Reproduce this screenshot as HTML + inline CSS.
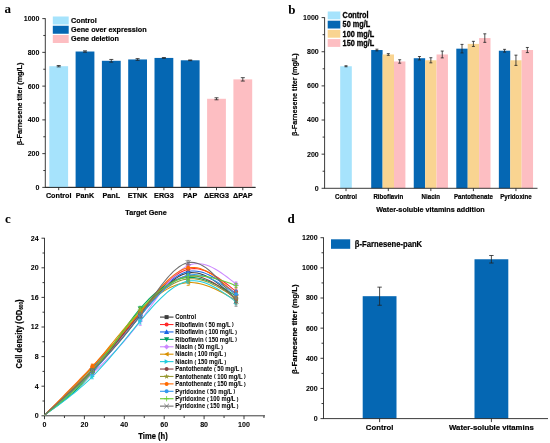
<!DOCTYPE html>
<html><head><meta charset="utf-8"><style>
html,body{margin:0;padding:0;background:#fff;width:550px;height:443px;overflow:hidden}
svg{display:block;will-change:transform}

</style></head><body>
<svg width="550" height="443" viewBox="0 0 550 443" font-family="'Liberation Sans', sans-serif"><text x="4.5" y="12.8" font-family="Liberation Serif, serif" font-size="13" font-weight="bold" fill="#000">a</text>
<line x1="45.30" y1="18.30" x2="45.30" y2="187.80" stroke="#262626" stroke-width="0.9"/>
<line x1="42.30" y1="187.40" x2="45.30" y2="187.40" stroke="#262626" stroke-width="0.9"/>
<text transform="translate(39.50,189.80) scale(0.88,1)" font-size="8.06" text-anchor="end" font-weight="bold" fill="#000" stroke="#000" stroke-width="0.05">0</text>
<line x1="43.30" y1="170.52" x2="45.30" y2="170.52" stroke="#262626" stroke-width="0.9"/>
<line x1="42.30" y1="153.64" x2="45.30" y2="153.64" stroke="#262626" stroke-width="0.9"/>
<text transform="translate(39.50,156.04) scale(0.88,1)" font-size="8.06" text-anchor="end" font-weight="bold" fill="#000" stroke="#000" stroke-width="0.05">200</text>
<line x1="43.30" y1="136.76" x2="45.30" y2="136.76" stroke="#262626" stroke-width="0.9"/>
<line x1="42.30" y1="119.88" x2="45.30" y2="119.88" stroke="#262626" stroke-width="0.9"/>
<text transform="translate(39.50,122.28) scale(0.88,1)" font-size="8.06" text-anchor="end" font-weight="bold" fill="#000" stroke="#000" stroke-width="0.05">400</text>
<line x1="43.30" y1="103.00" x2="45.30" y2="103.00" stroke="#262626" stroke-width="0.9"/>
<line x1="42.30" y1="86.12" x2="45.30" y2="86.12" stroke="#262626" stroke-width="0.9"/>
<text transform="translate(39.50,88.52) scale(0.88,1)" font-size="8.06" text-anchor="end" font-weight="bold" fill="#000" stroke="#000" stroke-width="0.05">600</text>
<line x1="43.30" y1="69.24" x2="45.30" y2="69.24" stroke="#262626" stroke-width="0.9"/>
<line x1="42.30" y1="52.36" x2="45.30" y2="52.36" stroke="#262626" stroke-width="0.9"/>
<text transform="translate(39.50,54.76) scale(0.88,1)" font-size="8.06" text-anchor="end" font-weight="bold" fill="#000" stroke="#000" stroke-width="0.05">800</text>
<line x1="43.30" y1="35.48" x2="45.30" y2="35.48" stroke="#262626" stroke-width="0.9"/>
<line x1="42.30" y1="18.60" x2="45.30" y2="18.60" stroke="#262626" stroke-width="0.9"/>
<text transform="translate(39.50,21.00) scale(0.88,1)" font-size="8.06" text-anchor="end" font-weight="bold" fill="#000" stroke="#000" stroke-width="0.05">1000</text>
<line x1="45.30" y1="187.40" x2="255.50" y2="187.40" stroke="#262626" stroke-width="0.9"/>
<rect x="49.30" y="66.20" width="18.80" height="121.20" fill="#A6E3FC"/>
<line x1="58.70" y1="65.53" x2="58.70" y2="66.88" stroke="#222" stroke-width="0.8"/>
<line x1="56.70" y1="65.53" x2="60.70" y2="65.53" stroke="#222" stroke-width="0.8"/>
<line x1="56.70" y1="66.88" x2="60.70" y2="66.88" stroke="#222" stroke-width="0.8"/>
<line x1="58.70" y1="187.40" x2="58.70" y2="190.20" stroke="#262626" stroke-width="0.9"/>
<text transform="translate(58.70,198.30) scale(0.92,1)" font-size="7.84" text-anchor="middle" font-weight="bold" fill="#000" stroke="#000" stroke-width="0.2" >Control</text>
<rect x="75.60" y="51.52" width="18.80" height="135.88" fill="#0567B3"/>
<line x1="85.00" y1="50.84" x2="85.00" y2="52.19" stroke="#222" stroke-width="0.8"/>
<line x1="83.00" y1="50.84" x2="87.00" y2="50.84" stroke="#222" stroke-width="0.8"/>
<line x1="83.00" y1="52.19" x2="87.00" y2="52.19" stroke="#222" stroke-width="0.8"/>
<line x1="85.00" y1="187.40" x2="85.00" y2="190.20" stroke="#262626" stroke-width="0.9"/>
<text transform="translate(85.00,198.30) scale(0.92,1)" font-size="7.84" text-anchor="middle" font-weight="bold" fill="#000" stroke="#000" stroke-width="0.2" >PanK</text>
<rect x="101.90" y="60.80" width="18.80" height="126.60" fill="#0567B3"/>
<line x1="111.30" y1="59.45" x2="111.30" y2="62.15" stroke="#222" stroke-width="0.8"/>
<line x1="109.30" y1="59.45" x2="113.30" y2="59.45" stroke="#222" stroke-width="0.8"/>
<line x1="109.30" y1="62.15" x2="113.30" y2="62.15" stroke="#222" stroke-width="0.8"/>
<line x1="111.30" y1="187.40" x2="111.30" y2="190.20" stroke="#262626" stroke-width="0.9"/>
<text transform="translate(111.30,198.30) scale(0.92,1)" font-size="7.84" text-anchor="middle" font-weight="bold" fill="#000" stroke="#000" stroke-width="0.2" >PanL</text>
<rect x="128.20" y="59.45" width="18.80" height="127.95" fill="#0567B3"/>
<line x1="137.60" y1="58.61" x2="137.60" y2="60.29" stroke="#222" stroke-width="0.8"/>
<line x1="135.60" y1="58.61" x2="139.60" y2="58.61" stroke="#222" stroke-width="0.8"/>
<line x1="135.60" y1="60.29" x2="139.60" y2="60.29" stroke="#222" stroke-width="0.8"/>
<line x1="137.60" y1="187.40" x2="137.60" y2="190.20" stroke="#262626" stroke-width="0.9"/>
<text transform="translate(137.60,198.30) scale(0.92,1)" font-size="7.84" text-anchor="middle" font-weight="bold" fill="#000" stroke="#000" stroke-width="0.2" >ETNK</text>
<rect x="154.50" y="57.93" width="18.80" height="129.47" fill="#0567B3"/>
<line x1="163.90" y1="57.59" x2="163.90" y2="58.27" stroke="#222" stroke-width="0.8"/>
<line x1="161.90" y1="57.59" x2="165.90" y2="57.59" stroke="#222" stroke-width="0.8"/>
<line x1="161.90" y1="58.27" x2="165.90" y2="58.27" stroke="#222" stroke-width="0.8"/>
<line x1="163.90" y1="187.40" x2="163.90" y2="190.20" stroke="#262626" stroke-width="0.9"/>
<text transform="translate(163.90,198.30) scale(0.92,1)" font-size="7.84" text-anchor="middle" font-weight="bold" fill="#000" stroke="#000" stroke-width="0.2" >ERG3</text>
<rect x="180.80" y="60.29" width="18.80" height="127.11" fill="#0567B3"/>
<line x1="190.20" y1="59.96" x2="190.20" y2="60.63" stroke="#222" stroke-width="0.8"/>
<line x1="188.20" y1="59.96" x2="192.20" y2="59.96" stroke="#222" stroke-width="0.8"/>
<line x1="188.20" y1="60.63" x2="192.20" y2="60.63" stroke="#222" stroke-width="0.8"/>
<line x1="190.20" y1="187.40" x2="190.20" y2="190.20" stroke="#262626" stroke-width="0.9"/>
<text transform="translate(190.20,198.30) scale(0.92,1)" font-size="7.84" text-anchor="middle" font-weight="bold" fill="#000" stroke="#000" stroke-width="0.2" >PAP</text>
<rect x="207.10" y="98.78" width="18.80" height="88.62" fill="#FDBEC2"/>
<line x1="216.50" y1="97.77" x2="216.50" y2="99.79" stroke="#222" stroke-width="0.8"/>
<line x1="214.50" y1="97.77" x2="218.50" y2="97.77" stroke="#222" stroke-width="0.8"/>
<line x1="214.50" y1="99.79" x2="218.50" y2="99.79" stroke="#222" stroke-width="0.8"/>
<line x1="216.50" y1="187.40" x2="216.50" y2="190.20" stroke="#262626" stroke-width="0.9"/>
<text transform="translate(216.50,198.30) scale(0.92,1)" font-size="7.84" text-anchor="middle" font-weight="bold" fill="#000" stroke="#000" stroke-width="0.2" >ΔERG3</text>
<rect x="233.40" y="79.37" width="18.80" height="108.03" fill="#FDBEC2"/>
<line x1="242.80" y1="77.68" x2="242.80" y2="81.06" stroke="#222" stroke-width="0.8"/>
<line x1="240.80" y1="77.68" x2="244.80" y2="77.68" stroke="#222" stroke-width="0.8"/>
<line x1="240.80" y1="81.06" x2="244.80" y2="81.06" stroke="#222" stroke-width="0.8"/>
<line x1="242.80" y1="187.40" x2="242.80" y2="190.20" stroke="#262626" stroke-width="0.9"/>
<text transform="translate(242.80,198.30) scale(0.92,1)" font-size="7.84" text-anchor="middle" font-weight="bold" fill="#000" stroke="#000" stroke-width="0.2" >ΔPAP</text>
<line x1="45.30" y1="187.40" x2="255.50" y2="187.40" stroke="#262626" stroke-width="0.9"/>
<text transform="translate(146.00,214.80) scale(0.92,1)" font-size="7.84" text-anchor="middle" font-weight="bold" fill="#000" stroke="#000" stroke-width="0.2" >Target Gene</text>
<text transform="translate(21.90,104.00) rotate(-90) scale(0.92,1)" font-size="7.86" text-anchor="middle" font-weight="bold" fill="#000" stroke="#000" stroke-width="0.2">β-Farnesene titer (mg/L)</text>
<rect x="52.80" y="16.50" width="15.90" height="8.00" fill="#A6E3FC"/>
<text transform="translate(71.00,22.90) scale(0.9,1)" font-size="8.06" text-anchor="start" font-weight="bold" fill="#000" stroke="#000" stroke-width="0.2" >Control</text>
<rect x="52.80" y="25.75" width="15.90" height="8.00" fill="#0567B3"/>
<text transform="translate(71.00,32.15) scale(0.9,1)" font-size="8.06" text-anchor="start" font-weight="bold" fill="#000" stroke="#000" stroke-width="0.2" >Gene over expression</text>
<rect x="52.80" y="35.00" width="15.90" height="8.00" fill="#FDBEC2"/>
<text transform="translate(71.00,41.40) scale(0.9,1)" font-size="8.06" text-anchor="start" font-weight="bold" fill="#000" stroke="#000" stroke-width="0.2" >Gene deletion</text>
<text x="288.3" y="13.6" font-family="Liberation Serif, serif" font-size="13" font-weight="bold" fill="#000">b</text>
<line x1="324.60" y1="17.30" x2="324.60" y2="188.70" stroke="#262626" stroke-width="0.9"/>
<line x1="321.60" y1="188.30" x2="324.60" y2="188.30" stroke="#262626" stroke-width="0.9"/>
<text transform="translate(318.80,190.70) scale(0.88,1)" font-size="8.06" text-anchor="end" font-weight="bold" fill="#000" stroke="#000" stroke-width="0.05">0</text>
<line x1="322.60" y1="171.23" x2="324.60" y2="171.23" stroke="#262626" stroke-width="0.9"/>
<line x1="321.60" y1="154.16" x2="324.60" y2="154.16" stroke="#262626" stroke-width="0.9"/>
<text transform="translate(318.80,156.56) scale(0.88,1)" font-size="8.06" text-anchor="end" font-weight="bold" fill="#000" stroke="#000" stroke-width="0.05">200</text>
<line x1="322.60" y1="137.09" x2="324.60" y2="137.09" stroke="#262626" stroke-width="0.9"/>
<line x1="321.60" y1="120.02" x2="324.60" y2="120.02" stroke="#262626" stroke-width="0.9"/>
<text transform="translate(318.80,122.42) scale(0.88,1)" font-size="8.06" text-anchor="end" font-weight="bold" fill="#000" stroke="#000" stroke-width="0.05">400</text>
<line x1="322.60" y1="102.95" x2="324.60" y2="102.95" stroke="#262626" stroke-width="0.9"/>
<line x1="321.60" y1="85.88" x2="324.60" y2="85.88" stroke="#262626" stroke-width="0.9"/>
<text transform="translate(318.80,88.28) scale(0.88,1)" font-size="8.06" text-anchor="end" font-weight="bold" fill="#000" stroke="#000" stroke-width="0.05">600</text>
<line x1="322.60" y1="68.81" x2="324.60" y2="68.81" stroke="#262626" stroke-width="0.9"/>
<line x1="321.60" y1="51.74" x2="324.60" y2="51.74" stroke="#262626" stroke-width="0.9"/>
<text transform="translate(318.80,54.14) scale(0.88,1)" font-size="8.06" text-anchor="end" font-weight="bold" fill="#000" stroke="#000" stroke-width="0.05">800</text>
<line x1="322.60" y1="34.67" x2="324.60" y2="34.67" stroke="#262626" stroke-width="0.9"/>
<line x1="321.60" y1="17.60" x2="324.60" y2="17.60" stroke="#262626" stroke-width="0.9"/>
<text transform="translate(318.80,20.00) scale(0.88,1)" font-size="8.06" text-anchor="end" font-weight="bold" fill="#000" stroke="#000" stroke-width="0.05">1000</text>
<rect x="340.20" y="66.25" width="11.60" height="122.05" fill="#A6E3FC"/>
<line x1="346.00" y1="65.74" x2="346.00" y2="66.76" stroke="#222" stroke-width="0.8"/>
<line x1="344.50" y1="65.74" x2="347.50" y2="65.74" stroke="#222" stroke-width="0.8"/>
<line x1="344.50" y1="66.76" x2="347.50" y2="66.76" stroke="#222" stroke-width="0.8"/>
<line x1="346.00" y1="188.30" x2="346.00" y2="191.10" stroke="#262626" stroke-width="0.9"/>
<text transform="translate(346.00,198.80) scale(0.92,1)" font-size="6.72" text-anchor="middle" font-weight="bold" fill="#000" stroke="#000" stroke-width="0.2" >Control</text>
<rect x="371.20" y="50.03" width="11.40" height="138.27" fill="#0567B3"/>
<line x1="376.90" y1="49.18" x2="376.90" y2="50.89" stroke="#222" stroke-width="0.8"/>
<line x1="375.40" y1="49.18" x2="378.40" y2="49.18" stroke="#222" stroke-width="0.8"/>
<line x1="375.40" y1="50.89" x2="378.40" y2="50.89" stroke="#222" stroke-width="0.8"/>
<rect x="382.60" y="54.47" width="11.40" height="133.83" fill="#F9D491"/>
<line x1="388.30" y1="53.62" x2="388.30" y2="55.32" stroke="#222" stroke-width="0.8"/>
<line x1="386.80" y1="53.62" x2="389.80" y2="53.62" stroke="#222" stroke-width="0.8"/>
<line x1="386.80" y1="55.32" x2="389.80" y2="55.32" stroke="#222" stroke-width="0.8"/>
<rect x="394.00" y="61.47" width="11.40" height="126.83" fill="#FDBEC2"/>
<line x1="399.70" y1="59.76" x2="399.70" y2="63.18" stroke="#222" stroke-width="0.8"/>
<line x1="398.20" y1="59.76" x2="401.20" y2="59.76" stroke="#222" stroke-width="0.8"/>
<line x1="398.20" y1="63.18" x2="401.20" y2="63.18" stroke="#222" stroke-width="0.8"/>
<line x1="388.30" y1="188.30" x2="388.30" y2="191.10" stroke="#262626" stroke-width="0.9"/>
<text transform="translate(388.30,198.80) scale(0.92,1)" font-size="6.72" text-anchor="middle" font-weight="bold" fill="#000" stroke="#000" stroke-width="0.2" >Riboflavin</text>
<rect x="413.75" y="58.23" width="11.40" height="130.07" fill="#0567B3"/>
<line x1="419.45" y1="56.52" x2="419.45" y2="59.93" stroke="#222" stroke-width="0.8"/>
<line x1="417.95" y1="56.52" x2="420.95" y2="56.52" stroke="#222" stroke-width="0.8"/>
<line x1="417.95" y1="59.93" x2="420.95" y2="59.93" stroke="#222" stroke-width="0.8"/>
<rect x="425.15" y="60.28" width="11.40" height="128.03" fill="#F9D491"/>
<line x1="430.85" y1="57.71" x2="430.85" y2="62.84" stroke="#222" stroke-width="0.8"/>
<line x1="429.35" y1="57.71" x2="432.35" y2="57.71" stroke="#222" stroke-width="0.8"/>
<line x1="429.35" y1="62.84" x2="432.35" y2="62.84" stroke="#222" stroke-width="0.8"/>
<rect x="436.55" y="54.47" width="11.40" height="133.83" fill="#FDBEC2"/>
<line x1="442.25" y1="51.06" x2="442.25" y2="57.89" stroke="#222" stroke-width="0.8"/>
<line x1="440.75" y1="51.06" x2="443.75" y2="51.06" stroke="#222" stroke-width="0.8"/>
<line x1="440.75" y1="57.89" x2="443.75" y2="57.89" stroke="#222" stroke-width="0.8"/>
<line x1="430.85" y1="188.30" x2="430.85" y2="191.10" stroke="#262626" stroke-width="0.9"/>
<text transform="translate(430.85,198.80) scale(0.92,1)" font-size="6.72" text-anchor="middle" font-weight="bold" fill="#000" stroke="#000" stroke-width="0.2" >Niacin</text>
<rect x="456.30" y="48.67" width="11.40" height="139.63" fill="#0567B3"/>
<line x1="462.00" y1="44.40" x2="462.00" y2="52.93" stroke="#222" stroke-width="0.8"/>
<line x1="460.50" y1="44.40" x2="463.50" y2="44.40" stroke="#222" stroke-width="0.8"/>
<line x1="460.50" y1="52.93" x2="463.50" y2="52.93" stroke="#222" stroke-width="0.8"/>
<rect x="467.70" y="43.89" width="11.40" height="144.41" fill="#F9D491"/>
<line x1="473.40" y1="41.33" x2="473.40" y2="46.45" stroke="#222" stroke-width="0.8"/>
<line x1="471.90" y1="41.33" x2="474.90" y2="41.33" stroke="#222" stroke-width="0.8"/>
<line x1="471.90" y1="46.45" x2="474.90" y2="46.45" stroke="#222" stroke-width="0.8"/>
<rect x="479.10" y="38.08" width="11.40" height="150.22" fill="#FDBEC2"/>
<line x1="484.80" y1="33.82" x2="484.80" y2="42.35" stroke="#222" stroke-width="0.8"/>
<line x1="483.30" y1="33.82" x2="486.30" y2="33.82" stroke="#222" stroke-width="0.8"/>
<line x1="483.30" y1="42.35" x2="486.30" y2="42.35" stroke="#222" stroke-width="0.8"/>
<line x1="473.40" y1="188.30" x2="473.40" y2="191.10" stroke="#262626" stroke-width="0.9"/>
<text transform="translate(473.40,198.80) scale(0.92,1)" font-size="6.72" text-anchor="middle" font-weight="bold" fill="#000" stroke="#000" stroke-width="0.2" >Pantothenate</text>
<rect x="498.85" y="50.72" width="11.40" height="137.58" fill="#0567B3"/>
<line x1="504.55" y1="49.35" x2="504.55" y2="52.08" stroke="#222" stroke-width="0.8"/>
<line x1="503.05" y1="49.35" x2="506.05" y2="49.35" stroke="#222" stroke-width="0.8"/>
<line x1="503.05" y1="52.08" x2="506.05" y2="52.08" stroke="#222" stroke-width="0.8"/>
<rect x="510.25" y="60.28" width="11.40" height="128.03" fill="#F9D491"/>
<line x1="515.95" y1="55.15" x2="515.95" y2="65.40" stroke="#222" stroke-width="0.8"/>
<line x1="514.45" y1="55.15" x2="517.45" y2="55.15" stroke="#222" stroke-width="0.8"/>
<line x1="514.45" y1="65.40" x2="517.45" y2="65.40" stroke="#222" stroke-width="0.8"/>
<rect x="521.65" y="50.03" width="11.40" height="138.27" fill="#FDBEC2"/>
<line x1="527.35" y1="47.47" x2="527.35" y2="52.59" stroke="#222" stroke-width="0.8"/>
<line x1="525.85" y1="47.47" x2="528.85" y2="47.47" stroke="#222" stroke-width="0.8"/>
<line x1="525.85" y1="52.59" x2="528.85" y2="52.59" stroke="#222" stroke-width="0.8"/>
<line x1="515.95" y1="188.30" x2="515.95" y2="191.10" stroke="#262626" stroke-width="0.9"/>
<text transform="translate(515.95,198.80) scale(0.92,1)" font-size="6.72" text-anchor="middle" font-weight="bold" fill="#000" stroke="#000" stroke-width="0.2" >Pyridoxine</text>
<line x1="324.60" y1="188.30" x2="537.50" y2="188.30" stroke="#262626" stroke-width="0.9"/>
<text transform="translate(430.50,211.50) scale(0.92,1)" font-size="7.84" text-anchor="middle" font-weight="bold" fill="#000" stroke="#000" stroke-width="0.2" >Water-soluble vitamins addition</text>
<text transform="translate(297.00,94.60) rotate(-90) scale(0.92,1)" font-size="7.86" text-anchor="middle" font-weight="bold" fill="#000" stroke="#000" stroke-width="0.2">β-Farnesene titer (mg/L)</text>
<rect x="327.70" y="11.50" width="12.60" height="7.80" fill="#A6E3FC"/>
<text transform="translate(342.60,18.10) scale(0.86,1)" font-size="8.51" text-anchor="start" font-weight="bold" fill="#000" stroke="#000" stroke-width="0.3">Control</text>
<rect x="327.70" y="20.70" width="12.60" height="7.80" fill="#0567B3"/>
<text transform="translate(342.60,27.30) scale(0.86,1)" font-size="8.51" text-anchor="start" font-weight="bold" fill="#000" stroke="#000" stroke-width="0.3">50 mg/L</text>
<rect x="327.70" y="29.90" width="12.60" height="7.80" fill="#F9D491"/>
<text transform="translate(342.60,36.50) scale(0.86,1)" font-size="8.51" text-anchor="start" font-weight="bold" fill="#000" stroke="#000" stroke-width="0.3">100 mg/L</text>
<rect x="327.70" y="39.10" width="12.60" height="7.80" fill="#FDBEC2"/>
<text transform="translate(342.60,45.70) scale(0.86,1)" font-size="8.51" text-anchor="start" font-weight="bold" fill="#000" stroke="#000" stroke-width="0.3">150 mg/L</text>
<text x="287.5" y="223.2" font-family="Liberation Serif, serif" font-size="13" font-weight="bold" fill="#000">d</text>
<line x1="323.50" y1="237.40" x2="323.50" y2="419.00" stroke="#262626" stroke-width="0.9"/>
<line x1="320.50" y1="418.60" x2="323.50" y2="418.60" stroke="#262626" stroke-width="0.9"/>
<text transform="translate(317.70,421.00) scale(0.88,1)" font-size="8.06" text-anchor="end" font-weight="bold" fill="#000" stroke="#000" stroke-width="0.05">0</text>
<line x1="321.50" y1="403.53" x2="323.50" y2="403.53" stroke="#262626" stroke-width="0.9"/>
<line x1="320.50" y1="388.45" x2="323.50" y2="388.45" stroke="#262626" stroke-width="0.9"/>
<text transform="translate(317.70,390.85) scale(0.88,1)" font-size="8.06" text-anchor="end" font-weight="bold" fill="#000" stroke="#000" stroke-width="0.05">200</text>
<line x1="321.50" y1="373.38" x2="323.50" y2="373.38" stroke="#262626" stroke-width="0.9"/>
<line x1="320.50" y1="358.30" x2="323.50" y2="358.30" stroke="#262626" stroke-width="0.9"/>
<text transform="translate(317.70,360.70) scale(0.88,1)" font-size="8.06" text-anchor="end" font-weight="bold" fill="#000" stroke="#000" stroke-width="0.05">400</text>
<line x1="321.50" y1="343.23" x2="323.50" y2="343.23" stroke="#262626" stroke-width="0.9"/>
<line x1="320.50" y1="328.15" x2="323.50" y2="328.15" stroke="#262626" stroke-width="0.9"/>
<text transform="translate(317.70,330.55) scale(0.88,1)" font-size="8.06" text-anchor="end" font-weight="bold" fill="#000" stroke="#000" stroke-width="0.05">600</text>
<line x1="321.50" y1="313.07" x2="323.50" y2="313.07" stroke="#262626" stroke-width="0.9"/>
<line x1="320.50" y1="298.00" x2="323.50" y2="298.00" stroke="#262626" stroke-width="0.9"/>
<text transform="translate(317.70,300.40) scale(0.88,1)" font-size="8.06" text-anchor="end" font-weight="bold" fill="#000" stroke="#000" stroke-width="0.05">800</text>
<line x1="321.50" y1="282.93" x2="323.50" y2="282.93" stroke="#262626" stroke-width="0.9"/>
<line x1="320.50" y1="267.85" x2="323.50" y2="267.85" stroke="#262626" stroke-width="0.9"/>
<text transform="translate(317.70,270.25) scale(0.88,1)" font-size="8.06" text-anchor="end" font-weight="bold" fill="#000" stroke="#000" stroke-width="0.05">1000</text>
<line x1="321.50" y1="252.78" x2="323.50" y2="252.78" stroke="#262626" stroke-width="0.9"/>
<line x1="320.50" y1="237.70" x2="323.50" y2="237.70" stroke="#262626" stroke-width="0.9"/>
<text transform="translate(317.70,240.10) scale(0.88,1)" font-size="8.06" text-anchor="end" font-weight="bold" fill="#000" stroke="#000" stroke-width="0.05">1200</text>
<rect x="362.70" y="296.19" width="33.80" height="122.41" fill="#0567B3"/>
<line x1="379.60" y1="287.15" x2="379.60" y2="305.24" stroke="#222" stroke-width="0.8"/>
<line x1="377.40" y1="287.15" x2="381.80" y2="287.15" stroke="#222" stroke-width="0.8"/>
<line x1="377.40" y1="305.24" x2="381.80" y2="305.24" stroke="#222" stroke-width="0.8"/>
<line x1="379.60" y1="418.60" x2="379.60" y2="422.10" stroke="#262626" stroke-width="0.9"/>
<text transform="translate(379.60,430.00) scale(0.99,1)" font-size="7.84" text-anchor="middle" font-weight="bold" fill="#000" stroke="#000" stroke-width="0.2" >Control</text>
<rect x="474.50" y="259.26" width="33.80" height="159.34" fill="#0567B3"/>
<line x1="491.40" y1="255.49" x2="491.40" y2="263.03" stroke="#222" stroke-width="0.8"/>
<line x1="489.20" y1="255.49" x2="493.60" y2="255.49" stroke="#222" stroke-width="0.8"/>
<line x1="489.20" y1="263.03" x2="493.60" y2="263.03" stroke="#222" stroke-width="0.8"/>
<line x1="491.40" y1="418.60" x2="491.40" y2="422.10" stroke="#262626" stroke-width="0.9"/>
<text transform="translate(491.40,430.00) scale(0.99,1)" font-size="7.84" text-anchor="middle" font-weight="bold" fill="#000" stroke="#000" stroke-width="0.2" >Water-soluble vitamins</text>
<line x1="323.50" y1="418.60" x2="548.00" y2="418.60" stroke="#262626" stroke-width="0.9"/>
<text transform="translate(297.20,329.20) rotate(-90) scale(1.0,1)" font-size="7.84" text-anchor="middle" font-weight="bold" fill="#000" stroke="#000" stroke-width="0.2">β-Farnesene titer (mg/L)</text>
<rect x="331.00" y="239.30" width="19.20" height="9.50" fill="#0567B3"/>
<text transform="translate(354.80,246.50) scale(0.94,1)" font-size="8.18" text-anchor="start" font-weight="bold" fill="#000" stroke="#000" stroke-width="0.2" >β-Farnesene-panK</text>
<text x="5" y="223.2" font-family="Liberation Serif, serif" font-size="13" font-weight="bold" fill="#000">c</text>
<line x1="44.50" y1="237.90" x2="44.50" y2="416.20" stroke="#262626" stroke-width="0.9"/>
<line x1="41.50" y1="415.80" x2="44.50" y2="415.80" stroke="#262626" stroke-width="0.9"/>
<text transform="translate(38.70,418.20) scale(0.88,1)" font-size="8.06" text-anchor="end" font-weight="bold" fill="#000" stroke="#000" stroke-width="0.05">0</text>
<line x1="42.50" y1="401.00" x2="44.50" y2="401.00" stroke="#262626" stroke-width="0.9"/>
<line x1="41.50" y1="386.20" x2="44.50" y2="386.20" stroke="#262626" stroke-width="0.9"/>
<text transform="translate(38.70,388.60) scale(0.88,1)" font-size="8.06" text-anchor="end" font-weight="bold" fill="#000" stroke="#000" stroke-width="0.05">4</text>
<line x1="42.50" y1="371.40" x2="44.50" y2="371.40" stroke="#262626" stroke-width="0.9"/>
<line x1="41.50" y1="356.60" x2="44.50" y2="356.60" stroke="#262626" stroke-width="0.9"/>
<text transform="translate(38.70,359.00) scale(0.88,1)" font-size="8.06" text-anchor="end" font-weight="bold" fill="#000" stroke="#000" stroke-width="0.05">8</text>
<line x1="42.50" y1="341.80" x2="44.50" y2="341.80" stroke="#262626" stroke-width="0.9"/>
<line x1="41.50" y1="327.00" x2="44.50" y2="327.00" stroke="#262626" stroke-width="0.9"/>
<text transform="translate(38.70,329.40) scale(0.88,1)" font-size="8.06" text-anchor="end" font-weight="bold" fill="#000" stroke="#000" stroke-width="0.05">12</text>
<line x1="42.50" y1="312.20" x2="44.50" y2="312.20" stroke="#262626" stroke-width="0.9"/>
<line x1="41.50" y1="297.40" x2="44.50" y2="297.40" stroke="#262626" stroke-width="0.9"/>
<text transform="translate(38.70,299.80) scale(0.88,1)" font-size="8.06" text-anchor="end" font-weight="bold" fill="#000" stroke="#000" stroke-width="0.05">16</text>
<line x1="42.50" y1="282.60" x2="44.50" y2="282.60" stroke="#262626" stroke-width="0.9"/>
<line x1="41.50" y1="267.80" x2="44.50" y2="267.80" stroke="#262626" stroke-width="0.9"/>
<text transform="translate(38.70,270.20) scale(0.88,1)" font-size="8.06" text-anchor="end" font-weight="bold" fill="#000" stroke="#000" stroke-width="0.05">20</text>
<line x1="42.50" y1="253.00" x2="44.50" y2="253.00" stroke="#262626" stroke-width="0.9"/>
<line x1="41.50" y1="238.20" x2="44.50" y2="238.20" stroke="#262626" stroke-width="0.9"/>
<text transform="translate(38.70,240.60) scale(0.88,1)" font-size="8.06" text-anchor="end" font-weight="bold" fill="#000" stroke="#000" stroke-width="0.05">24</text>
<line x1="44.50" y1="415.80" x2="265.00" y2="415.80" stroke="#262626" stroke-width="0.9"/>
<line x1="44.50" y1="415.80" x2="44.50" y2="419.20" stroke="#262626" stroke-width="0.9"/>
<text transform="translate(44.50,427.30) scale(0.88,1)" font-size="8.06" text-anchor="middle" font-weight="bold" fill="#000" stroke="#000" stroke-width="0.05">0</text>
<line x1="64.45" y1="415.80" x2="64.45" y2="418.00" stroke="#262626" stroke-width="0.9"/>
<line x1="84.40" y1="415.80" x2="84.40" y2="419.20" stroke="#262626" stroke-width="0.9"/>
<text transform="translate(84.40,427.30) scale(0.88,1)" font-size="8.06" text-anchor="middle" font-weight="bold" fill="#000" stroke="#000" stroke-width="0.05">20</text>
<line x1="104.35" y1="415.80" x2="104.35" y2="418.00" stroke="#262626" stroke-width="0.9"/>
<line x1="124.30" y1="415.80" x2="124.30" y2="419.20" stroke="#262626" stroke-width="0.9"/>
<text transform="translate(124.30,427.30) scale(0.88,1)" font-size="8.06" text-anchor="middle" font-weight="bold" fill="#000" stroke="#000" stroke-width="0.05">40</text>
<line x1="144.25" y1="415.80" x2="144.25" y2="418.00" stroke="#262626" stroke-width="0.9"/>
<line x1="164.20" y1="415.80" x2="164.20" y2="419.20" stroke="#262626" stroke-width="0.9"/>
<text transform="translate(164.20,427.30) scale(0.88,1)" font-size="8.06" text-anchor="middle" font-weight="bold" fill="#000" stroke="#000" stroke-width="0.05">60</text>
<line x1="184.15" y1="415.80" x2="184.15" y2="418.00" stroke="#262626" stroke-width="0.9"/>
<line x1="204.10" y1="415.80" x2="204.10" y2="419.20" stroke="#262626" stroke-width="0.9"/>
<text transform="translate(204.10,427.30) scale(0.88,1)" font-size="8.06" text-anchor="middle" font-weight="bold" fill="#000" stroke="#000" stroke-width="0.05">80</text>
<line x1="224.05" y1="415.80" x2="224.05" y2="418.00" stroke="#262626" stroke-width="0.9"/>
<line x1="244.00" y1="415.80" x2="244.00" y2="419.20" stroke="#262626" stroke-width="0.9"/>
<text transform="translate(244.00,427.30) scale(0.88,1)" font-size="8.06" text-anchor="middle" font-weight="bold" fill="#000" stroke="#000" stroke-width="0.05">100</text>
<line x1="263.95" y1="415.80" x2="263.95" y2="418.00" stroke="#262626" stroke-width="0.9"/>
<text transform="translate(153.00,438.90) scale(0.92,1)" font-size="8.29" text-anchor="middle" font-weight="bold" fill="#000" stroke="#000" stroke-width="0.2" >Time (h)</text>
<text transform="translate(21.80,334.00) rotate(-90) scale(0.92,1)" font-size="8.29" text-anchor="middle" font-weight="bold" fill="#000" stroke="#000" stroke-width="0.2">Cell density (OD<tspan font-size="5" dy="1.5">600</tspan><tspan dy="-1.5">)</tspan></text>
<path d="M44.50,415.06 L47.49,412.51 L50.48,409.95 L53.48,407.39 L56.47,404.81 L59.46,402.22 L62.45,399.60 L65.45,396.96 L68.44,394.30 L71.43,391.59 L74.42,388.85 L77.42,386.07 L80.41,383.25 L83.40,380.37 L86.40,377.44 L89.39,374.45 L92.38,371.40 L95.37,368.28 L98.37,365.10 L101.36,361.86 L104.35,358.57 L107.34,355.22 L110.34,351.82 L113.33,348.38 L116.32,344.89 L119.31,341.37 L122.31,337.81 L125.30,334.22 L128.29,330.60 L131.28,326.95 L134.28,323.28 L137.27,319.60 L140.26,315.90 L143.25,312.19 L146.25,308.50 L149.24,304.85 L152.23,301.27 L155.22,297.77 L158.22,294.40 L161.21,291.18 L164.20,288.12 L167.19,285.26 L170.19,282.63 L173.18,280.25 L176.17,278.14 L179.16,276.33 L182.16,274.85 L185.15,273.73 L188.14,272.98 L191.13,272.63 L194.12,272.66 L197.12,273.05 L200.11,273.77 L203.10,274.79 L206.09,276.09 L209.09,277.65 L212.08,279.43 L215.07,281.42 L218.06,283.58 L221.06,285.90 L224.05,288.34 L227.04,290.89 L230.03,293.51 L233.03,296.18 L236.02,298.88" fill="none" stroke="#3C3C3C" stroke-width="1.05"/>
<path d="M44.50,415.06 L47.49,412.40 L50.48,409.74 L53.48,407.07 L56.47,404.39 L59.46,401.70 L62.45,398.98 L65.45,396.24 L68.44,393.48 L71.43,390.68 L74.42,387.85 L77.42,384.98 L80.41,382.07 L83.40,379.11 L86.40,376.10 L89.39,373.04 L92.38,369.92 L95.37,366.74 L98.37,363.50 L101.36,360.21 L104.35,356.86 L107.34,353.46 L110.34,350.02 L113.33,346.53 L116.32,343.00 L119.31,339.44 L122.31,335.84 L125.30,332.21 L128.29,328.55 L131.28,324.86 L134.28,321.15 L137.27,317.42 L140.26,313.68 L143.25,309.93 L146.25,306.18 L149.24,302.48 L152.23,298.83 L155.22,295.28 L158.22,291.84 L161.21,288.54 L164.20,285.40 L167.19,282.45 L170.19,279.72 L173.18,277.23 L176.17,275.01 L179.16,273.07 L182.16,271.46 L185.15,270.18 L188.14,269.28 L191.13,268.76 L194.12,268.61 L197.12,268.80 L200.11,269.32 L203.10,270.13 L206.09,271.21 L209.09,272.53 L212.08,274.08 L215.07,275.83 L218.06,277.74 L221.06,279.81 L224.05,281.99 L227.04,284.28 L230.03,286.64 L233.03,289.05 L236.02,291.48" fill="none" stroke="#FF2A2A" stroke-width="1.05"/>
<path d="M44.50,415.06 L47.49,412.19 L50.48,409.32 L53.48,406.45 L56.47,403.57 L59.46,400.68 L62.45,397.78 L65.45,394.86 L68.44,391.94 L71.43,388.99 L74.42,386.02 L77.42,383.04 L80.41,380.03 L83.40,376.99 L86.40,373.92 L89.39,370.83 L92.38,367.70 L95.37,364.54 L98.37,361.34 L101.36,358.11 L104.35,354.85 L107.34,351.56 L110.34,348.24 L113.33,344.90 L116.32,341.52 L119.31,338.12 L122.31,334.70 L125.30,331.25 L128.29,327.77 L131.28,324.28 L134.28,320.77 L137.27,317.23 L140.26,313.68 L143.25,310.11 L146.25,306.56 L149.24,303.03 L152.23,299.56 L155.22,296.18 L158.22,292.90 L161.21,289.75 L164.20,286.76 L167.19,283.96 L170.19,281.36 L173.18,278.99 L176.17,276.88 L179.16,275.05 L182.16,273.52 L185.15,272.33 L188.14,271.50 L191.13,271.04 L194.12,270.94 L197.12,271.17 L200.11,271.71 L203.10,272.54 L206.09,273.62 L209.09,274.95 L212.08,276.50 L215.07,278.23 L218.06,280.13 L221.06,282.17 L224.05,284.33 L227.04,286.59 L230.03,288.92 L233.03,291.30 L236.02,293.70" fill="none" stroke="#1A66E6" stroke-width="1.05"/>
<path d="M44.50,415.06 L47.49,412.89 L50.48,410.70 L53.48,408.50 L56.47,406.26 L59.46,403.98 L62.45,401.64 L65.45,399.24 L68.44,396.76 L71.43,394.19 L74.42,391.53 L77.42,388.76 L80.41,385.87 L83.40,382.84 L86.40,379.68 L89.39,376.36 L92.38,372.88 L95.37,369.23 L98.37,365.43 L101.36,361.50 L104.35,357.45 L107.34,353.33 L110.34,349.14 L113.33,344.90 L116.32,340.65 L119.31,336.39 L122.31,332.16 L125.30,327.98 L128.29,323.86 L131.28,319.83 L134.28,315.91 L137.27,312.13 L140.26,308.50 L143.25,305.05 L146.25,301.77 L149.24,298.68 L152.23,295.79 L155.22,293.08 L158.22,290.58 L161.21,288.28 L164.20,286.19 L167.19,284.30 L170.19,282.64 L173.18,281.19 L176.17,279.97 L179.16,278.98 L182.16,278.22 L185.15,277.70 L188.14,277.42 L191.13,277.38 L194.12,277.58 L197.12,277.99 L200.11,278.60 L203.10,279.39 L206.09,280.36 L209.09,281.47 L212.08,282.73 L215.07,284.11 L218.06,285.60 L221.06,287.18 L224.05,288.83 L227.04,290.55 L230.03,292.31 L233.03,294.11 L236.02,295.92" fill="none" stroke="#00A064" stroke-width="1.05"/>
<path d="M44.50,415.06 L47.49,412.56 L50.48,410.06 L53.48,407.55 L56.47,405.04 L59.46,402.52 L62.45,399.98 L65.45,397.44 L68.44,394.88 L71.43,392.30 L74.42,389.71 L77.42,387.09 L80.41,384.45 L83.40,381.79 L86.40,379.10 L89.39,376.37 L92.38,373.62 L95.37,370.83 L98.37,368.00 L101.36,365.13 L104.35,362.21 L107.34,359.23 L110.34,356.19 L113.33,353.08 L116.32,349.89 L119.31,346.63 L122.31,343.28 L125.30,339.84 L128.29,336.30 L131.28,332.67 L134.28,328.92 L137.27,325.06 L140.26,321.08 L143.25,316.98 L146.25,312.80 L149.24,308.56 L152.23,304.31 L155.22,300.08 L158.22,295.91 L161.21,291.83 L164.20,287.89 L167.19,284.12 L170.19,280.56 L173.18,277.24 L176.17,274.20 L179.16,271.48 L182.16,269.11 L185.15,267.13 L188.14,265.58 L191.13,264.48 L194.12,263.82 L197.12,263.57 L200.11,263.70 L203.10,264.17 L206.09,264.96 L209.09,266.05 L212.08,267.39 L215.07,268.97 L218.06,270.75 L221.06,272.71 L224.05,274.81 L227.04,277.02 L230.03,279.33 L233.03,281.69 L236.02,284.08" fill="none" stroke="#CC88FF" stroke-width="1.05"/>
<path d="M44.50,415.06 L47.49,412.26 L50.48,409.46 L53.48,406.65 L56.47,403.82 L59.46,400.98 L62.45,398.11 L65.45,395.21 L68.44,392.27 L71.43,389.30 L74.42,386.28 L77.42,383.21 L80.41,380.09 L83.40,376.91 L86.40,373.66 L89.39,370.35 L92.38,366.96 L95.37,363.50 L98.37,359.96 L101.36,356.38 L104.35,352.75 L107.34,349.10 L110.34,345.43 L113.33,341.76 L116.32,338.10 L119.31,334.46 L122.31,330.86 L125.30,327.31 L128.29,323.82 L131.28,320.40 L134.28,317.07 L137.27,313.84 L140.26,310.72 L143.25,307.73 L146.25,304.86 L149.24,302.14 L152.23,299.56 L155.22,297.14 L158.22,294.88 L161.21,292.78 L164.20,290.86 L167.19,289.12 L170.19,287.56 L173.18,286.21 L176.17,285.05 L179.16,284.11 L182.16,283.38 L185.15,282.87 L188.14,282.60 L191.13,282.56 L194.12,282.74 L197.12,283.13 L200.11,283.71 L203.10,284.48 L206.09,285.40 L209.09,286.47 L212.08,287.68 L215.07,289.00 L218.06,290.43 L221.06,291.95 L224.05,293.54 L227.04,295.20 L230.03,296.89 L233.03,298.62 L236.02,300.36" fill="none" stroke="#D89000" stroke-width="1.05"/>
<path d="M44.50,415.06 L47.49,412.94 L50.48,410.81 L53.48,408.67 L56.47,406.51 L59.46,404.33 L62.45,402.11 L65.45,399.85 L68.44,397.54 L71.43,395.18 L74.42,392.76 L77.42,390.27 L80.41,387.70 L83.40,385.06 L86.40,382.33 L89.39,379.51 L92.38,376.58 L95.37,373.55 L98.37,370.42 L101.36,367.20 L104.35,363.90 L107.34,360.53 L110.34,357.09 L113.33,353.59 L116.32,350.05 L119.31,346.48 L122.31,342.87 L125.30,339.24 L128.29,335.60 L131.28,331.95 L134.28,328.31 L137.27,324.68 L140.26,321.08 L143.25,317.51 L146.25,313.99 L149.24,310.54 L152.23,307.18 L155.22,303.93 L158.22,300.81 L161.21,297.84 L164.20,295.04 L167.19,292.43 L170.19,290.03 L173.18,287.85 L176.17,285.93 L179.16,284.28 L182.16,282.91 L185.15,281.85 L188.14,281.12 L191.13,280.73 L194.12,280.67 L197.12,280.91 L200.11,281.43 L203.10,282.21 L206.09,283.24 L209.09,284.48 L212.08,285.92 L215.07,287.53 L218.06,289.29 L221.06,291.18 L224.05,293.18 L227.04,295.27 L230.03,297.42 L233.03,299.62 L236.02,301.84" fill="none" stroke="#22CCDD" stroke-width="1.05"/>
<path d="M44.50,415.06 L47.49,412.61 L50.48,410.15 L53.48,407.67 L56.47,405.18 L59.46,402.66 L62.45,400.11 L65.45,397.52 L68.44,394.89 L71.43,392.20 L74.42,389.46 L77.42,386.65 L80.41,383.77 L83.40,380.81 L86.40,377.77 L89.39,374.63 L92.38,371.40 L95.37,368.07 L98.37,364.64 L101.36,361.14 L104.35,357.56 L107.34,353.92 L110.34,350.23 L113.33,346.50 L116.32,342.74 L119.31,338.96 L122.31,335.18 L125.30,331.40 L128.29,327.64 L131.28,323.90 L134.28,320.20 L137.27,316.54 L140.26,312.94 L143.25,309.41 L146.25,305.96 L149.24,302.62 L152.23,299.39 L155.22,296.30 L158.22,293.36 L161.21,290.59 L164.20,288.00 L167.19,285.62 L170.19,283.45 L173.18,281.51 L176.17,279.83 L179.16,278.41 L182.16,277.28 L185.15,276.45 L188.14,275.94 L191.13,275.76 L194.12,275.88 L197.12,276.30 L200.11,277.00 L203.10,277.94 L206.09,279.11 L209.09,280.49 L212.08,282.06 L215.07,283.80 L218.06,285.68 L221.06,287.69 L224.05,289.80 L227.04,292.00 L230.03,294.26 L233.03,296.56 L236.02,298.88" fill="none" stroke="#884444" stroke-width="1.05"/>
<path d="M44.50,415.06 L47.49,412.42 L50.48,409.78 L53.48,407.13 L56.47,404.46 L59.46,401.77 L62.45,399.06 L65.45,396.31 L68.44,393.52 L71.43,390.69 L74.42,387.80 L77.42,384.87 L80.41,381.87 L83.40,378.81 L86.40,375.68 L89.39,372.47 L92.38,369.18 L95.37,365.80 L98.37,362.35 L101.36,358.84 L104.35,355.27 L107.34,351.65 L110.34,348.01 L113.33,344.34 L116.32,340.66 L119.31,336.98 L122.31,333.32 L125.30,329.68 L128.29,326.07 L131.28,322.51 L134.28,319.00 L137.27,315.56 L140.26,312.20 L143.25,308.93 L146.25,305.76 L149.24,302.70 L152.23,299.77 L155.22,296.98 L158.22,294.34 L161.21,291.86 L164.20,289.55 L167.19,287.44 L170.19,285.52 L173.18,283.82 L176.17,282.34 L179.16,281.09 L182.16,280.10 L185.15,279.36 L188.14,278.90 L191.13,278.72 L194.12,278.81 L197.12,279.14 L200.11,279.71 L203.10,280.50 L206.09,281.47 L209.09,282.63 L212.08,283.95 L215.07,285.41 L218.06,287.00 L221.06,288.69 L224.05,290.47 L227.04,292.33 L230.03,294.24 L233.03,296.18 L236.02,298.14" fill="none" stroke="#999933" stroke-width="1.05"/>
<path d="M44.50,415.06 L47.49,412.06 L50.48,409.05 L53.48,406.05 L56.47,403.04 L59.46,400.02 L62.45,397.00 L65.45,393.97 L68.44,390.94 L71.43,387.89 L74.42,384.84 L77.42,381.77 L80.41,378.69 L83.40,375.60 L86.40,372.49 L89.39,369.36 L92.38,366.22 L95.37,363.06 L98.37,359.88 L101.36,356.67 L104.35,353.45 L107.34,350.19 L110.34,346.91 L113.33,343.60 L116.32,340.26 L119.31,336.89 L122.31,333.48 L125.30,330.03 L128.29,326.55 L131.28,323.03 L134.28,319.46 L137.27,315.85 L140.26,312.20 L143.25,308.50 L146.25,304.79 L149.24,301.09 L152.23,297.44 L155.22,293.85 L158.22,290.37 L161.21,287.02 L164.20,283.84 L167.19,280.84 L170.19,278.07 L173.18,275.55 L176.17,273.32 L179.16,271.39 L182.16,269.81 L185.15,268.61 L188.14,267.80 L191.13,267.42 L194.12,267.44 L197.12,267.84 L200.11,268.59 L203.10,269.67 L206.09,271.04 L209.09,272.69 L212.08,274.57 L215.07,276.68 L218.06,278.97 L221.06,281.42 L224.05,284.01 L227.04,286.71 L230.03,289.49 L233.03,292.32 L236.02,295.18" fill="none" stroke="#FF6A00" stroke-width="1.05"/>
<path d="M44.50,415.06 L47.49,412.60 L50.48,410.14 L53.48,407.67 L56.47,405.18 L59.46,402.66 L62.45,400.13 L65.45,397.56 L68.44,394.95 L71.43,392.30 L74.42,389.61 L77.42,386.86 L80.41,384.05 L83.40,381.18 L86.40,378.24 L89.39,375.23 L92.38,372.14 L95.37,368.97 L98.37,365.71 L101.36,362.39 L104.35,359.00 L107.34,355.56 L110.34,352.07 L113.33,348.53 L116.32,344.96 L119.31,341.35 L122.31,337.73 L125.30,334.09 L128.29,330.44 L131.28,326.79 L134.28,323.15 L137.27,319.51 L140.26,315.90 L143.25,312.31 L146.25,308.78 L149.24,305.30 L152.23,301.91 L155.22,298.63 L158.22,295.48 L161.21,292.46 L164.20,289.62 L167.19,286.96 L170.19,284.50 L173.18,282.27 L176.17,280.29 L179.16,278.57 L182.16,277.13 L185.15,276.00 L188.14,275.20 L191.13,274.73 L194.12,274.59 L197.12,274.75 L200.11,275.18 L203.10,275.88 L206.09,276.81 L209.09,277.96 L212.08,279.30 L215.07,280.82 L218.06,282.49 L221.06,284.28 L224.05,286.18 L227.04,288.17 L230.03,290.23 L233.03,292.32 L236.02,294.44" fill="none" stroke="#3399EE" stroke-width="1.05"/>
<path d="M44.50,415.06 L47.49,412.71 L50.48,410.34 L53.48,407.96 L56.47,405.55 L59.46,403.11 L62.45,400.63 L65.45,398.09 L68.44,395.48 L71.43,392.81 L74.42,390.06 L77.42,387.22 L80.41,384.29 L83.40,381.25 L86.40,378.09 L89.39,374.81 L92.38,371.40 L95.37,367.85 L98.37,364.18 L101.36,360.41 L104.35,356.54 L107.34,352.61 L110.34,348.63 L113.33,344.62 L116.32,340.59 L119.31,336.56 L122.31,332.55 L125.30,328.59 L128.29,324.68 L131.28,320.85 L134.28,317.11 L137.27,313.48 L140.26,309.98 L143.25,306.63 L146.25,303.42 L149.24,300.38 L152.23,297.49 L155.22,294.76 L158.22,292.21 L161.21,289.82 L164.20,287.61 L167.19,285.57 L170.19,283.72 L173.18,282.06 L176.17,280.59 L179.16,279.31 L182.16,278.23 L185.15,277.35 L188.14,276.68 L191.13,276.22 L194.12,275.95 L197.12,275.87 L200.11,275.96 L203.10,276.20 L206.09,276.59 L209.09,277.11 L212.08,277.76 L215.07,278.50 L218.06,279.34 L221.06,280.25 L224.05,281.24 L227.04,282.27 L230.03,283.35 L233.03,284.45 L236.02,285.56" fill="none" stroke="#66CC33" stroke-width="1.05"/>
<path d="M44.50,415.06 L47.49,412.38 L50.48,409.70 L53.48,407.02 L56.47,404.33 L59.46,401.62 L62.45,398.91 L65.45,396.19 L68.44,393.44 L71.43,390.68 L74.42,387.90 L77.42,385.10 L80.41,382.27 L83.40,379.42 L86.40,376.53 L89.39,373.61 L92.38,370.66 L95.37,367.67 L98.37,364.64 L101.36,361.56 L104.35,358.44 L107.34,355.25 L110.34,352.01 L113.33,348.70 L116.32,345.32 L119.31,341.86 L122.31,338.33 L125.30,334.71 L128.29,331.00 L131.28,327.19 L134.28,323.29 L137.27,319.28 L140.26,315.16 L143.25,310.94 L146.25,306.64 L149.24,302.31 L152.23,298.00 L155.22,293.74 L158.22,289.58 L161.21,285.56 L164.20,281.72 L167.19,278.11 L170.19,274.76 L173.18,271.72 L176.17,269.03 L179.16,266.73 L182.16,264.87 L185.15,263.49 L188.14,262.62 L191.13,262.30 L194.12,262.51 L197.12,263.22 L200.11,264.37 L203.10,265.95 L206.09,267.92 L209.09,270.24 L212.08,272.87 L215.07,275.79 L218.06,278.95 L221.06,282.32 L224.05,285.86 L227.04,289.55 L230.03,293.34 L233.03,297.20 L236.02,301.10" fill="none" stroke="#6E6E6E" stroke-width="1.05"/>
<line x1="92.38" y1="369.18" x2="92.38" y2="373.62" stroke="#3C3C3C" stroke-width="0.7"/>
<line x1="90.88" y1="369.18" x2="93.88" y2="369.18" stroke="#3C3C3C" stroke-width="0.7"/>
<line x1="90.88" y1="373.62" x2="93.88" y2="373.62" stroke="#3C3C3C" stroke-width="0.7"/>
<rect x="90.38" y="369.40" width="4.00" height="4.00" fill="#3C3C3C"/>
<line x1="140.26" y1="312.94" x2="140.26" y2="318.86" stroke="#3C3C3C" stroke-width="0.7"/>
<line x1="138.76" y1="312.94" x2="141.76" y2="312.94" stroke="#3C3C3C" stroke-width="0.7"/>
<line x1="138.76" y1="318.86" x2="141.76" y2="318.86" stroke="#3C3C3C" stroke-width="0.7"/>
<rect x="138.26" y="313.90" width="4.00" height="4.00" fill="#3C3C3C"/>
<line x1="188.14" y1="269.28" x2="188.14" y2="276.68" stroke="#3C3C3C" stroke-width="0.7"/>
<line x1="186.64" y1="269.28" x2="189.64" y2="269.28" stroke="#3C3C3C" stroke-width="0.7"/>
<line x1="186.64" y1="276.68" x2="189.64" y2="276.68" stroke="#3C3C3C" stroke-width="0.7"/>
<rect x="186.14" y="270.98" width="4.00" height="4.00" fill="#3C3C3C"/>
<line x1="236.02" y1="294.44" x2="236.02" y2="303.32" stroke="#3C3C3C" stroke-width="0.7"/>
<line x1="234.52" y1="294.44" x2="237.52" y2="294.44" stroke="#3C3C3C" stroke-width="0.7"/>
<line x1="234.52" y1="303.32" x2="237.52" y2="303.32" stroke="#3C3C3C" stroke-width="0.7"/>
<rect x="234.02" y="296.88" width="4.00" height="4.00" fill="#3C3C3C"/>
<line x1="92.38" y1="367.70" x2="92.38" y2="372.14" stroke="#FF2A2A" stroke-width="0.7"/>
<line x1="90.88" y1="367.70" x2="93.88" y2="367.70" stroke="#FF2A2A" stroke-width="0.7"/>
<line x1="90.88" y1="372.14" x2="93.88" y2="372.14" stroke="#FF2A2A" stroke-width="0.7"/>
<circle cx="92.38" cy="369.92" r="2.00" fill="#FF2A2A"/>
<line x1="140.26" y1="310.72" x2="140.26" y2="316.64" stroke="#FF2A2A" stroke-width="0.7"/>
<line x1="138.76" y1="310.72" x2="141.76" y2="310.72" stroke="#FF2A2A" stroke-width="0.7"/>
<line x1="138.76" y1="316.64" x2="141.76" y2="316.64" stroke="#FF2A2A" stroke-width="0.7"/>
<circle cx="140.26" cy="313.68" r="2.00" fill="#FF2A2A"/>
<line x1="188.14" y1="266.32" x2="188.14" y2="272.24" stroke="#FF2A2A" stroke-width="0.7"/>
<line x1="186.64" y1="266.32" x2="189.64" y2="266.32" stroke="#FF2A2A" stroke-width="0.7"/>
<line x1="186.64" y1="272.24" x2="189.64" y2="272.24" stroke="#FF2A2A" stroke-width="0.7"/>
<circle cx="188.14" cy="269.28" r="2.00" fill="#FF2A2A"/>
<line x1="236.02" y1="287.78" x2="236.02" y2="295.18" stroke="#FF2A2A" stroke-width="0.7"/>
<line x1="234.52" y1="287.78" x2="237.52" y2="287.78" stroke="#FF2A2A" stroke-width="0.7"/>
<line x1="234.52" y1="295.18" x2="237.52" y2="295.18" stroke="#FF2A2A" stroke-width="0.7"/>
<circle cx="236.02" cy="291.48" r="2.00" fill="#FF2A2A"/>
<line x1="92.38" y1="365.48" x2="92.38" y2="369.92" stroke="#1A66E6" stroke-width="0.7"/>
<line x1="90.88" y1="365.48" x2="93.88" y2="365.48" stroke="#1A66E6" stroke-width="0.7"/>
<line x1="90.88" y1="369.92" x2="93.88" y2="369.92" stroke="#1A66E6" stroke-width="0.7"/>
<polygon points="92.38,365.00 89.78,369.70 94.98,369.70" fill="#1A66E6"/>
<line x1="140.26" y1="310.72" x2="140.26" y2="316.64" stroke="#1A66E6" stroke-width="0.7"/>
<line x1="138.76" y1="310.72" x2="141.76" y2="310.72" stroke="#1A66E6" stroke-width="0.7"/>
<line x1="138.76" y1="316.64" x2="141.76" y2="316.64" stroke="#1A66E6" stroke-width="0.7"/>
<polygon points="140.26,310.98 137.66,315.68 142.86,315.68" fill="#1A66E6"/>
<line x1="188.14" y1="268.54" x2="188.14" y2="274.46" stroke="#1A66E6" stroke-width="0.7"/>
<line x1="186.64" y1="268.54" x2="189.64" y2="268.54" stroke="#1A66E6" stroke-width="0.7"/>
<line x1="186.64" y1="274.46" x2="189.64" y2="274.46" stroke="#1A66E6" stroke-width="0.7"/>
<polygon points="188.14,268.80 185.54,273.50 190.74,273.50" fill="#1A66E6"/>
<line x1="236.02" y1="290.00" x2="236.02" y2="297.40" stroke="#1A66E6" stroke-width="0.7"/>
<line x1="234.52" y1="290.00" x2="237.52" y2="290.00" stroke="#1A66E6" stroke-width="0.7"/>
<line x1="234.52" y1="297.40" x2="237.52" y2="297.40" stroke="#1A66E6" stroke-width="0.7"/>
<polygon points="236.02,291.00 233.42,295.70 238.62,295.70" fill="#1A66E6"/>
<line x1="92.38" y1="370.66" x2="92.38" y2="375.10" stroke="#00A064" stroke-width="0.7"/>
<line x1="90.88" y1="370.66" x2="93.88" y2="370.66" stroke="#00A064" stroke-width="0.7"/>
<line x1="90.88" y1="375.10" x2="93.88" y2="375.10" stroke="#00A064" stroke-width="0.7"/>
<polygon points="92.38,375.58 89.78,370.88 94.98,370.88" fill="#00A064"/>
<line x1="140.26" y1="306.28" x2="140.26" y2="310.72" stroke="#00A064" stroke-width="0.7"/>
<line x1="138.76" y1="306.28" x2="141.76" y2="306.28" stroke="#00A064" stroke-width="0.7"/>
<line x1="138.76" y1="310.72" x2="141.76" y2="310.72" stroke="#00A064" stroke-width="0.7"/>
<polygon points="140.26,311.20 137.66,306.50 142.86,306.50" fill="#00A064"/>
<line x1="188.14" y1="274.46" x2="188.14" y2="280.38" stroke="#00A064" stroke-width="0.7"/>
<line x1="186.64" y1="274.46" x2="189.64" y2="274.46" stroke="#00A064" stroke-width="0.7"/>
<line x1="186.64" y1="280.38" x2="189.64" y2="280.38" stroke="#00A064" stroke-width="0.7"/>
<polygon points="188.14,280.12 185.54,275.42 190.74,275.42" fill="#00A064"/>
<line x1="236.02" y1="292.22" x2="236.02" y2="299.62" stroke="#00A064" stroke-width="0.7"/>
<line x1="234.52" y1="292.22" x2="237.52" y2="292.22" stroke="#00A064" stroke-width="0.7"/>
<line x1="234.52" y1="299.62" x2="237.52" y2="299.62" stroke="#00A064" stroke-width="0.7"/>
<polygon points="236.02,298.62 233.42,293.92 238.62,293.92" fill="#00A064"/>
<line x1="92.38" y1="371.40" x2="92.38" y2="375.84" stroke="#CC88FF" stroke-width="0.7"/>
<line x1="90.88" y1="371.40" x2="93.88" y2="371.40" stroke="#CC88FF" stroke-width="0.7"/>
<line x1="90.88" y1="375.84" x2="93.88" y2="375.84" stroke="#CC88FF" stroke-width="0.7"/>
<polygon points="92.38,371.02 94.98,373.62 92.38,376.22 89.78,373.62" fill="#CC88FF"/>
<line x1="140.26" y1="316.64" x2="140.26" y2="325.52" stroke="#CC88FF" stroke-width="0.7"/>
<line x1="138.76" y1="316.64" x2="141.76" y2="316.64" stroke="#CC88FF" stroke-width="0.7"/>
<line x1="138.76" y1="325.52" x2="141.76" y2="325.52" stroke="#CC88FF" stroke-width="0.7"/>
<polygon points="140.26,318.48 142.86,321.08 140.26,323.68 137.66,321.08" fill="#CC88FF"/>
<line x1="188.14" y1="263.36" x2="188.14" y2="267.80" stroke="#CC88FF" stroke-width="0.7"/>
<line x1="186.64" y1="263.36" x2="189.64" y2="263.36" stroke="#CC88FF" stroke-width="0.7"/>
<line x1="186.64" y1="267.80" x2="189.64" y2="267.80" stroke="#CC88FF" stroke-width="0.7"/>
<polygon points="188.14,262.98 190.74,265.58 188.14,268.18 185.54,265.58" fill="#CC88FF"/>
<line x1="236.02" y1="281.86" x2="236.02" y2="286.30" stroke="#CC88FF" stroke-width="0.7"/>
<line x1="234.52" y1="281.86" x2="237.52" y2="281.86" stroke="#CC88FF" stroke-width="0.7"/>
<line x1="234.52" y1="286.30" x2="237.52" y2="286.30" stroke="#CC88FF" stroke-width="0.7"/>
<polygon points="236.02,281.48 238.62,284.08 236.02,286.68 233.42,284.08" fill="#CC88FF"/>
<line x1="92.38" y1="364.74" x2="92.38" y2="369.18" stroke="#D89000" stroke-width="0.7"/>
<line x1="90.88" y1="364.74" x2="93.88" y2="364.74" stroke="#D89000" stroke-width="0.7"/>
<line x1="90.88" y1="369.18" x2="93.88" y2="369.18" stroke="#D89000" stroke-width="0.7"/>
<polygon points="89.98,366.96 94.38,364.56 94.38,369.36" fill="#D89000"/>
<line x1="140.26" y1="307.76" x2="140.26" y2="313.68" stroke="#D89000" stroke-width="0.7"/>
<line x1="138.76" y1="307.76" x2="141.76" y2="307.76" stroke="#D89000" stroke-width="0.7"/>
<line x1="138.76" y1="313.68" x2="141.76" y2="313.68" stroke="#D89000" stroke-width="0.7"/>
<polygon points="137.86,310.72 142.26,308.32 142.26,313.12" fill="#D89000"/>
<line x1="188.14" y1="279.64" x2="188.14" y2="285.56" stroke="#D89000" stroke-width="0.7"/>
<line x1="186.64" y1="279.64" x2="189.64" y2="279.64" stroke="#D89000" stroke-width="0.7"/>
<line x1="186.64" y1="285.56" x2="189.64" y2="285.56" stroke="#D89000" stroke-width="0.7"/>
<polygon points="185.74,282.60 190.14,280.20 190.14,285.00" fill="#D89000"/>
<line x1="236.02" y1="296.66" x2="236.02" y2="304.06" stroke="#D89000" stroke-width="0.7"/>
<line x1="234.52" y1="296.66" x2="237.52" y2="296.66" stroke="#D89000" stroke-width="0.7"/>
<line x1="234.52" y1="304.06" x2="237.52" y2="304.06" stroke="#D89000" stroke-width="0.7"/>
<polygon points="233.62,300.36 238.02,297.96 238.02,302.76" fill="#D89000"/>
<line x1="92.38" y1="374.36" x2="92.38" y2="378.80" stroke="#22CCDD" stroke-width="0.7"/>
<line x1="90.88" y1="374.36" x2="93.88" y2="374.36" stroke="#22CCDD" stroke-width="0.7"/>
<line x1="90.88" y1="378.80" x2="93.88" y2="378.80" stroke="#22CCDD" stroke-width="0.7"/>
<polygon points="94.78,376.58 90.38,374.18 90.38,378.98" fill="#22CCDD"/>
<line x1="140.26" y1="318.12" x2="140.26" y2="324.04" stroke="#22CCDD" stroke-width="0.7"/>
<line x1="138.76" y1="318.12" x2="141.76" y2="318.12" stroke="#22CCDD" stroke-width="0.7"/>
<line x1="138.76" y1="324.04" x2="141.76" y2="324.04" stroke="#22CCDD" stroke-width="0.7"/>
<polygon points="142.66,321.08 138.26,318.68 138.26,323.48" fill="#22CCDD"/>
<line x1="188.14" y1="278.90" x2="188.14" y2="283.34" stroke="#22CCDD" stroke-width="0.7"/>
<line x1="186.64" y1="278.90" x2="189.64" y2="278.90" stroke="#22CCDD" stroke-width="0.7"/>
<line x1="186.64" y1="283.34" x2="189.64" y2="283.34" stroke="#22CCDD" stroke-width="0.7"/>
<polygon points="190.54,281.12 186.14,278.72 186.14,283.52" fill="#22CCDD"/>
<line x1="236.02" y1="298.88" x2="236.02" y2="304.80" stroke="#22CCDD" stroke-width="0.7"/>
<line x1="234.52" y1="298.88" x2="237.52" y2="298.88" stroke="#22CCDD" stroke-width="0.7"/>
<line x1="234.52" y1="304.80" x2="237.52" y2="304.80" stroke="#22CCDD" stroke-width="0.7"/>
<polygon points="238.42,301.84 234.02,299.44 234.02,304.24" fill="#22CCDD"/>
<line x1="92.38" y1="369.18" x2="92.38" y2="373.62" stroke="#884444" stroke-width="0.7"/>
<line x1="90.88" y1="369.18" x2="93.88" y2="369.18" stroke="#884444" stroke-width="0.7"/>
<line x1="90.88" y1="373.62" x2="93.88" y2="373.62" stroke="#884444" stroke-width="0.7"/>
<circle cx="92.38" cy="371.40" r="2.00" fill="#884444"/>
<line x1="140.26" y1="309.98" x2="140.26" y2="315.90" stroke="#884444" stroke-width="0.7"/>
<line x1="138.76" y1="309.98" x2="141.76" y2="309.98" stroke="#884444" stroke-width="0.7"/>
<line x1="138.76" y1="315.90" x2="141.76" y2="315.90" stroke="#884444" stroke-width="0.7"/>
<circle cx="140.26" cy="312.94" r="2.00" fill="#884444"/>
<line x1="188.14" y1="272.98" x2="188.14" y2="278.90" stroke="#884444" stroke-width="0.7"/>
<line x1="186.64" y1="272.98" x2="189.64" y2="272.98" stroke="#884444" stroke-width="0.7"/>
<line x1="186.64" y1="278.90" x2="189.64" y2="278.90" stroke="#884444" stroke-width="0.7"/>
<circle cx="188.14" cy="275.94" r="2.00" fill="#884444"/>
<line x1="236.02" y1="295.18" x2="236.02" y2="302.58" stroke="#884444" stroke-width="0.7"/>
<line x1="234.52" y1="295.18" x2="237.52" y2="295.18" stroke="#884444" stroke-width="0.7"/>
<line x1="234.52" y1="302.58" x2="237.52" y2="302.58" stroke="#884444" stroke-width="0.7"/>
<circle cx="236.02" cy="298.88" r="2.00" fill="#884444"/>
<line x1="92.38" y1="366.96" x2="92.38" y2="371.40" stroke="#999933" stroke-width="0.7"/>
<line x1="90.88" y1="366.96" x2="93.88" y2="366.96" stroke="#999933" stroke-width="0.7"/>
<line x1="90.88" y1="371.40" x2="93.88" y2="371.40" stroke="#999933" stroke-width="0.7"/>
<polygon points="92.38,366.38 93.09,368.21 95.04,368.31 93.52,369.55 94.03,371.45 92.38,370.38 90.73,371.45 91.24,369.55 89.72,368.31 91.67,368.21" fill="#999933"/>
<line x1="140.26" y1="309.24" x2="140.26" y2="315.16" stroke="#999933" stroke-width="0.7"/>
<line x1="138.76" y1="309.24" x2="141.76" y2="309.24" stroke="#999933" stroke-width="0.7"/>
<line x1="138.76" y1="315.16" x2="141.76" y2="315.16" stroke="#999933" stroke-width="0.7"/>
<polygon points="140.26,309.40 140.97,311.23 142.92,311.33 141.40,312.57 141.91,314.47 140.26,313.40 138.61,314.47 139.12,312.57 137.60,311.33 139.55,311.23" fill="#999933"/>
<line x1="188.14" y1="275.94" x2="188.14" y2="281.86" stroke="#999933" stroke-width="0.7"/>
<line x1="186.64" y1="275.94" x2="189.64" y2="275.94" stroke="#999933" stroke-width="0.7"/>
<line x1="186.64" y1="281.86" x2="189.64" y2="281.86" stroke="#999933" stroke-width="0.7"/>
<polygon points="188.14,276.10 188.85,277.93 190.80,278.03 189.28,279.27 189.79,281.17 188.14,280.10 186.49,281.17 187.00,279.27 185.48,278.03 187.43,277.93" fill="#999933"/>
<line x1="236.02" y1="294.44" x2="236.02" y2="301.84" stroke="#999933" stroke-width="0.7"/>
<line x1="234.52" y1="294.44" x2="237.52" y2="294.44" stroke="#999933" stroke-width="0.7"/>
<line x1="234.52" y1="301.84" x2="237.52" y2="301.84" stroke="#999933" stroke-width="0.7"/>
<polygon points="236.02,295.34 236.73,297.17 238.68,297.27 237.16,298.51 237.67,300.41 236.02,299.34 234.37,300.41 234.88,298.51 233.36,297.27 235.31,297.17" fill="#999933"/>
<line x1="92.38" y1="364.00" x2="92.38" y2="368.44" stroke="#FF6A00" stroke-width="0.7"/>
<line x1="90.88" y1="364.00" x2="93.88" y2="364.00" stroke="#FF6A00" stroke-width="0.7"/>
<line x1="90.88" y1="368.44" x2="93.88" y2="368.44" stroke="#FF6A00" stroke-width="0.7"/>
<circle cx="92.38" cy="366.22" r="2.00" fill="#FF6A00"/>
<line x1="140.26" y1="309.24" x2="140.26" y2="315.16" stroke="#FF6A00" stroke-width="0.7"/>
<line x1="138.76" y1="309.24" x2="141.76" y2="309.24" stroke="#FF6A00" stroke-width="0.7"/>
<line x1="138.76" y1="315.16" x2="141.76" y2="315.16" stroke="#FF6A00" stroke-width="0.7"/>
<circle cx="140.26" cy="312.20" r="2.00" fill="#FF6A00"/>
<line x1="188.14" y1="264.84" x2="188.14" y2="270.76" stroke="#FF6A00" stroke-width="0.7"/>
<line x1="186.64" y1="264.84" x2="189.64" y2="264.84" stroke="#FF6A00" stroke-width="0.7"/>
<line x1="186.64" y1="270.76" x2="189.64" y2="270.76" stroke="#FF6A00" stroke-width="0.7"/>
<circle cx="188.14" cy="267.80" r="2.00" fill="#FF6A00"/>
<line x1="236.02" y1="291.48" x2="236.02" y2="298.88" stroke="#FF6A00" stroke-width="0.7"/>
<line x1="234.52" y1="291.48" x2="237.52" y2="291.48" stroke="#FF6A00" stroke-width="0.7"/>
<line x1="234.52" y1="298.88" x2="237.52" y2="298.88" stroke="#FF6A00" stroke-width="0.7"/>
<circle cx="236.02" cy="295.18" r="2.00" fill="#FF6A00"/>
<line x1="92.38" y1="369.92" x2="92.38" y2="374.36" stroke="#3399EE" stroke-width="0.7"/>
<line x1="90.88" y1="369.92" x2="93.88" y2="369.92" stroke="#3399EE" stroke-width="0.7"/>
<line x1="90.88" y1="374.36" x2="93.88" y2="374.36" stroke="#3399EE" stroke-width="0.7"/>
<circle cx="92.38" cy="372.14" r="2.00" fill="#3399EE"/>
<line x1="140.26" y1="312.94" x2="140.26" y2="318.86" stroke="#3399EE" stroke-width="0.7"/>
<line x1="138.76" y1="312.94" x2="141.76" y2="312.94" stroke="#3399EE" stroke-width="0.7"/>
<line x1="138.76" y1="318.86" x2="141.76" y2="318.86" stroke="#3399EE" stroke-width="0.7"/>
<circle cx="140.26" cy="315.90" r="2.00" fill="#3399EE"/>
<line x1="188.14" y1="272.24" x2="188.14" y2="278.16" stroke="#3399EE" stroke-width="0.7"/>
<line x1="186.64" y1="272.24" x2="189.64" y2="272.24" stroke="#3399EE" stroke-width="0.7"/>
<line x1="186.64" y1="278.16" x2="189.64" y2="278.16" stroke="#3399EE" stroke-width="0.7"/>
<circle cx="188.14" cy="275.20" r="2.00" fill="#3399EE"/>
<line x1="236.02" y1="290.74" x2="236.02" y2="298.14" stroke="#3399EE" stroke-width="0.7"/>
<line x1="234.52" y1="290.74" x2="237.52" y2="290.74" stroke="#3399EE" stroke-width="0.7"/>
<line x1="234.52" y1="298.14" x2="237.52" y2="298.14" stroke="#3399EE" stroke-width="0.7"/>
<circle cx="236.02" cy="294.44" r="2.00" fill="#3399EE"/>
<line x1="92.38" y1="369.18" x2="92.38" y2="373.62" stroke="#66CC33" stroke-width="0.7"/>
<line x1="90.88" y1="369.18" x2="93.88" y2="369.18" stroke="#66CC33" stroke-width="0.7"/>
<line x1="90.88" y1="373.62" x2="93.88" y2="373.62" stroke="#66CC33" stroke-width="0.7"/>
<line x1="89.78" y1="371.40" x2="94.98" y2="371.40" stroke="#66CC33" stroke-width="0.8"/>
<line x1="92.38" y1="368.80" x2="92.38" y2="374.00" stroke="#66CC33" stroke-width="0.8"/>
<line x1="140.26" y1="307.02" x2="140.26" y2="312.94" stroke="#66CC33" stroke-width="0.7"/>
<line x1="138.76" y1="307.02" x2="141.76" y2="307.02" stroke="#66CC33" stroke-width="0.7"/>
<line x1="138.76" y1="312.94" x2="141.76" y2="312.94" stroke="#66CC33" stroke-width="0.7"/>
<line x1="137.66" y1="309.98" x2="142.86" y2="309.98" stroke="#66CC33" stroke-width="0.8"/>
<line x1="140.26" y1="307.38" x2="140.26" y2="312.58" stroke="#66CC33" stroke-width="0.8"/>
<line x1="188.14" y1="273.72" x2="188.14" y2="279.64" stroke="#66CC33" stroke-width="0.7"/>
<line x1="186.64" y1="273.72" x2="189.64" y2="273.72" stroke="#66CC33" stroke-width="0.7"/>
<line x1="186.64" y1="279.64" x2="189.64" y2="279.64" stroke="#66CC33" stroke-width="0.7"/>
<line x1="185.54" y1="276.68" x2="190.74" y2="276.68" stroke="#66CC33" stroke-width="0.8"/>
<line x1="188.14" y1="274.08" x2="188.14" y2="279.28" stroke="#66CC33" stroke-width="0.8"/>
<line x1="236.02" y1="283.34" x2="236.02" y2="287.78" stroke="#66CC33" stroke-width="0.7"/>
<line x1="234.52" y1="283.34" x2="237.52" y2="283.34" stroke="#66CC33" stroke-width="0.7"/>
<line x1="234.52" y1="287.78" x2="237.52" y2="287.78" stroke="#66CC33" stroke-width="0.7"/>
<line x1="233.42" y1="285.56" x2="238.62" y2="285.56" stroke="#66CC33" stroke-width="0.8"/>
<line x1="236.02" y1="282.96" x2="236.02" y2="288.16" stroke="#66CC33" stroke-width="0.8"/>
<line x1="92.38" y1="368.44" x2="92.38" y2="372.88" stroke="#6E6E6E" stroke-width="0.7"/>
<line x1="90.88" y1="368.44" x2="93.88" y2="368.44" stroke="#6E6E6E" stroke-width="0.7"/>
<line x1="90.88" y1="372.88" x2="93.88" y2="372.88" stroke="#6E6E6E" stroke-width="0.7"/>
<line x1="89.98" y1="368.26" x2="94.78" y2="373.06" stroke="#6E6E6E" stroke-width="0.8"/>
<line x1="89.98" y1="373.06" x2="94.78" y2="368.26" stroke="#6E6E6E" stroke-width="0.8"/>
<line x1="140.26" y1="312.20" x2="140.26" y2="318.12" stroke="#6E6E6E" stroke-width="0.7"/>
<line x1="138.76" y1="312.20" x2="141.76" y2="312.20" stroke="#6E6E6E" stroke-width="0.7"/>
<line x1="138.76" y1="318.12" x2="141.76" y2="318.12" stroke="#6E6E6E" stroke-width="0.7"/>
<line x1="137.86" y1="312.76" x2="142.66" y2="317.56" stroke="#6E6E6E" stroke-width="0.8"/>
<line x1="137.86" y1="317.56" x2="142.66" y2="312.76" stroke="#6E6E6E" stroke-width="0.8"/>
<line x1="188.14" y1="260.40" x2="188.14" y2="264.84" stroke="#6E6E6E" stroke-width="0.7"/>
<line x1="186.64" y1="260.40" x2="189.64" y2="260.40" stroke="#6E6E6E" stroke-width="0.7"/>
<line x1="186.64" y1="264.84" x2="189.64" y2="264.84" stroke="#6E6E6E" stroke-width="0.7"/>
<line x1="185.74" y1="260.22" x2="190.54" y2="265.02" stroke="#6E6E6E" stroke-width="0.8"/>
<line x1="185.74" y1="265.02" x2="190.54" y2="260.22" stroke="#6E6E6E" stroke-width="0.8"/>
<line x1="236.02" y1="295.92" x2="236.02" y2="306.28" stroke="#6E6E6E" stroke-width="0.7"/>
<line x1="234.52" y1="295.92" x2="237.52" y2="295.92" stroke="#6E6E6E" stroke-width="0.7"/>
<line x1="234.52" y1="306.28" x2="237.52" y2="306.28" stroke="#6E6E6E" stroke-width="0.7"/>
<line x1="233.62" y1="298.70" x2="238.42" y2="303.50" stroke="#6E6E6E" stroke-width="0.8"/>
<line x1="233.62" y1="303.50" x2="238.42" y2="298.70" stroke="#6E6E6E" stroke-width="0.8"/>
<line x1="160.00" y1="317.10" x2="173.50" y2="317.10" stroke="#3C3C3C" stroke-width="1.1"/>
<rect x="164.60" y="315.10" width="4.00" height="4.00" fill="#3C3C3C"/>
<text transform="translate(175.3,319.30) scale(0.9,1)" font-size="6.5" font-weight="bold" fill="#000" stroke="#000" stroke-width="0.05">Control</text>
<line x1="160.00" y1="324.52" x2="173.50" y2="324.52" stroke="#FF2A2A" stroke-width="1.1"/>
<circle cx="166.60" cy="324.52" r="2.00" fill="#FF2A2A"/>
<text transform="translate(175.3,326.72) scale(0.9,1)" font-size="6.5" font-weight="bold" fill="#000" stroke="#000" stroke-width="0.05">Riboflavin<tspan dx="2.0" font-size="5.6" dy="-0.3" stroke-width="0.05">(</tspan><tspan dx="1.6" dy="0.3">50 mg/L</tspan><tspan dx="1.6" font-size="5.6" dy="-0.3" stroke-width="0.05">)</tspan></text>
<line x1="160.00" y1="331.94" x2="173.50" y2="331.94" stroke="#1A66E6" stroke-width="1.1"/>
<polygon points="166.60,329.24 164.00,333.94 169.20,333.94" fill="#1A66E6"/>
<text transform="translate(175.3,334.14) scale(0.9,1)" font-size="6.5" font-weight="bold" fill="#000" stroke="#000" stroke-width="0.05">Riboflavin<tspan dx="2.0" font-size="5.6" dy="-0.3" stroke-width="0.05">(</tspan><tspan dx="1.6" dy="0.3">100 mg/L</tspan><tspan dx="1.6" font-size="5.6" dy="-0.3" stroke-width="0.05">)</tspan></text>
<line x1="160.00" y1="339.36" x2="173.50" y2="339.36" stroke="#00A064" stroke-width="1.1"/>
<polygon points="166.60,342.06 164.00,337.36 169.20,337.36" fill="#00A064"/>
<text transform="translate(175.3,341.56) scale(0.9,1)" font-size="6.5" font-weight="bold" fill="#000" stroke="#000" stroke-width="0.05">Riboflavin<tspan dx="2.0" font-size="5.6" dy="-0.3" stroke-width="0.05">(</tspan><tspan dx="1.6" dy="0.3">150 mg/L</tspan><tspan dx="1.6" font-size="5.6" dy="-0.3" stroke-width="0.05">)</tspan></text>
<line x1="160.00" y1="346.78" x2="173.50" y2="346.78" stroke="#CC88FF" stroke-width="1.1"/>
<polygon points="166.60,344.18 169.20,346.78 166.60,349.38 164.00,346.78" fill="#CC88FF"/>
<text transform="translate(175.3,348.98) scale(0.9,1)" font-size="6.5" font-weight="bold" fill="#000" stroke="#000" stroke-width="0.05">Niacin<tspan dx="2.0" font-size="5.6" dy="-0.3" stroke-width="0.05">(</tspan><tspan dx="1.6" dy="0.3">50 mg/L</tspan><tspan dx="1.6" font-size="5.6" dy="-0.3" stroke-width="0.05">)</tspan></text>
<line x1="160.00" y1="354.20" x2="173.50" y2="354.20" stroke="#D89000" stroke-width="1.1"/>
<polygon points="164.20,354.20 168.60,351.80 168.60,356.60" fill="#D89000"/>
<text transform="translate(175.3,356.40) scale(0.9,1)" font-size="6.5" font-weight="bold" fill="#000" stroke="#000" stroke-width="0.05">Niacin<tspan dx="2.0" font-size="5.6" dy="-0.3" stroke-width="0.05">(</tspan><tspan dx="1.6" dy="0.3">100 mg/L</tspan><tspan dx="1.6" font-size="5.6" dy="-0.3" stroke-width="0.05">)</tspan></text>
<line x1="160.00" y1="361.62" x2="173.50" y2="361.62" stroke="#22CCDD" stroke-width="1.1"/>
<polygon points="169.00,361.62 164.60,359.22 164.60,364.02" fill="#22CCDD"/>
<text transform="translate(175.3,363.82) scale(0.9,1)" font-size="6.5" font-weight="bold" fill="#000" stroke="#000" stroke-width="0.05">Niacin<tspan dx="2.0" font-size="5.6" dy="-0.3" stroke-width="0.05">(</tspan><tspan dx="1.6" dy="0.3">150 mg/L</tspan><tspan dx="1.6" font-size="5.6" dy="-0.3" stroke-width="0.05">)</tspan></text>
<line x1="160.00" y1="369.04" x2="173.50" y2="369.04" stroke="#884444" stroke-width="1.1"/>
<circle cx="166.60" cy="369.04" r="2.00" fill="#884444"/>
<text transform="translate(175.3,371.24) scale(0.9,1)" font-size="6.5" font-weight="bold" fill="#000" stroke="#000" stroke-width="0.05">Pantothenate<tspan dx="2.0" font-size="5.6" dy="-0.3" stroke-width="0.05">(</tspan><tspan dx="1.6" dy="0.3">50 mg/L</tspan><tspan dx="1.6" font-size="5.6" dy="-0.3" stroke-width="0.05">)</tspan></text>
<line x1="160.00" y1="376.46" x2="173.50" y2="376.46" stroke="#999933" stroke-width="1.1"/>
<polygon points="166.60,373.66 167.31,375.49 169.26,375.59 167.74,376.83 168.25,378.73 166.60,377.66 164.95,378.73 165.46,376.83 163.94,375.59 165.89,375.49" fill="#999933"/>
<text transform="translate(175.3,378.66) scale(0.9,1)" font-size="6.5" font-weight="bold" fill="#000" stroke="#000" stroke-width="0.05">Pantothenate<tspan dx="2.0" font-size="5.6" dy="-0.3" stroke-width="0.05">(</tspan><tspan dx="1.6" dy="0.3">100 mg/L</tspan><tspan dx="1.6" font-size="5.6" dy="-0.3" stroke-width="0.05">)</tspan></text>
<line x1="160.00" y1="383.88" x2="173.50" y2="383.88" stroke="#FF6A00" stroke-width="1.1"/>
<circle cx="166.60" cy="383.88" r="2.00" fill="#FF6A00"/>
<text transform="translate(175.3,386.08) scale(0.9,1)" font-size="6.5" font-weight="bold" fill="#000" stroke="#000" stroke-width="0.05">Pantothenate<tspan dx="2.0" font-size="5.6" dy="-0.3" stroke-width="0.05">(</tspan><tspan dx="1.6" dy="0.3">150 mg/L</tspan><tspan dx="1.6" font-size="5.6" dy="-0.3" stroke-width="0.05">)</tspan></text>
<line x1="160.00" y1="391.30" x2="173.50" y2="391.30" stroke="#3399EE" stroke-width="1.1"/>
<circle cx="166.60" cy="391.30" r="2.00" fill="#3399EE"/>
<text transform="translate(175.3,393.50) scale(0.9,1)" font-size="6.5" font-weight="bold" fill="#000" stroke="#000" stroke-width="0.05">Pyridoxine<tspan dx="2.0" font-size="5.6" dy="-0.3" stroke-width="0.05">(</tspan><tspan dx="1.6" dy="0.3">50 mg/L</tspan><tspan dx="1.6" font-size="5.6" dy="-0.3" stroke-width="0.05">)</tspan></text>
<line x1="160.00" y1="398.72" x2="173.50" y2="398.72" stroke="#66CC33" stroke-width="1.1"/>
<line x1="164.00" y1="398.72" x2="169.20" y2="398.72" stroke="#66CC33" stroke-width="0.8"/>
<line x1="166.60" y1="396.12" x2="166.60" y2="401.32" stroke="#66CC33" stroke-width="0.8"/>
<text transform="translate(175.3,400.92) scale(0.9,1)" font-size="6.5" font-weight="bold" fill="#000" stroke="#000" stroke-width="0.05">Pyridoxine<tspan dx="2.0" font-size="5.6" dy="-0.3" stroke-width="0.05">(</tspan><tspan dx="1.6" dy="0.3">100 mg/L</tspan><tspan dx="1.6" font-size="5.6" dy="-0.3" stroke-width="0.05">)</tspan></text>
<line x1="160.00" y1="406.14" x2="173.50" y2="406.14" stroke="#6E6E6E" stroke-width="1.1"/>
<line x1="164.20" y1="403.74" x2="169.00" y2="408.54" stroke="#6E6E6E" stroke-width="0.8"/>
<line x1="164.20" y1="408.54" x2="169.00" y2="403.74" stroke="#6E6E6E" stroke-width="0.8"/>
<text transform="translate(175.3,408.34) scale(0.9,1)" font-size="6.5" font-weight="bold" fill="#000" stroke="#000" stroke-width="0.05">Pyridoxine<tspan dx="2.0" font-size="5.6" dy="-0.3" stroke-width="0.05">(</tspan><tspan dx="1.6" dy="0.3">150 mg/L</tspan><tspan dx="1.6" font-size="5.6" dy="-0.3" stroke-width="0.05">)</tspan></text></svg>
</body></html>
